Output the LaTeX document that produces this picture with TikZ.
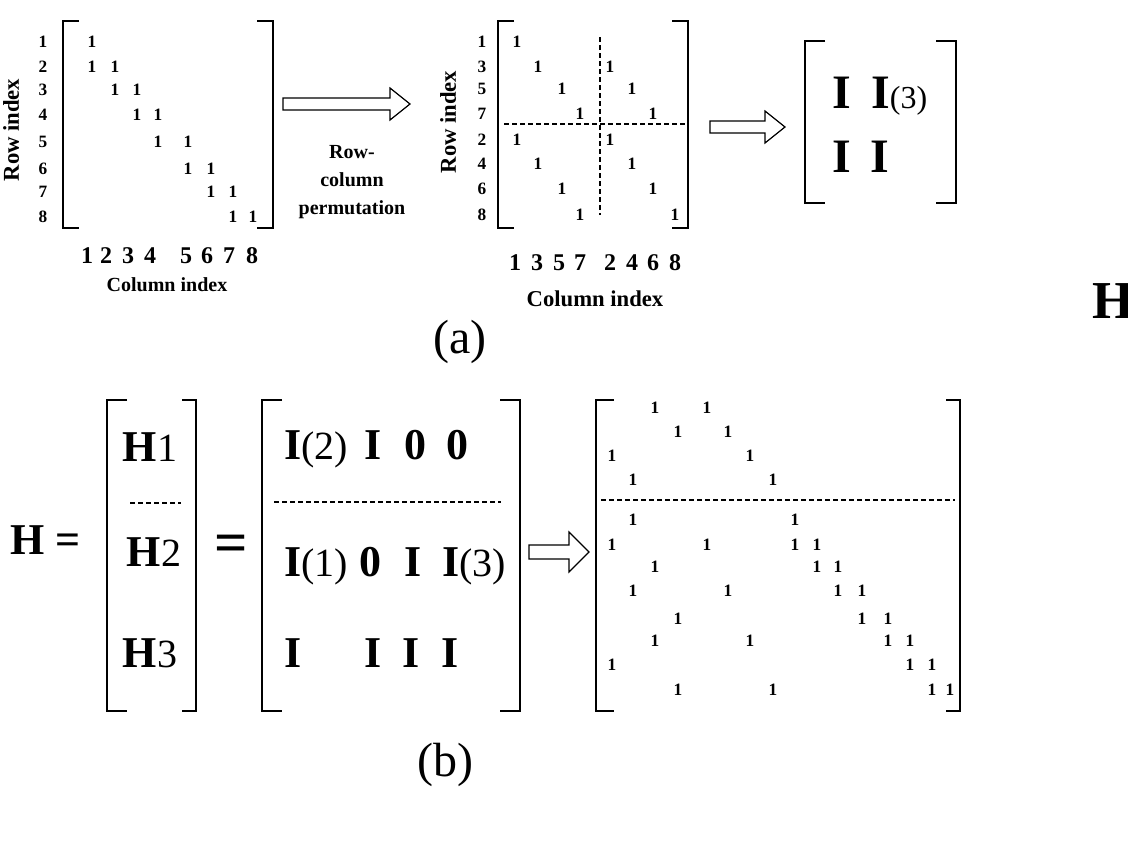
\documentclass[tikz,border=0pt]{standalone}
\usepackage{fontspec}
\setmainfont{Liberation Serif}
\begin{document}
\begin{tikzpicture}[x=0.75pt,y=-0.75pt,
  one/.style={font=\fontsize{13}{13}\selectfont\bfseries,inner sep=0pt},
  lab/.style={font=\fontsize{15}{17}\selectfont\bfseries,inner sep=0pt,align=center},
  clab/.style={font=\fontsize{18}{18}\selectfont\bfseries,inner sep=0pt},
  big/.style={font=\fontsize{33}{33}\selectfont\bfseries,inner sep=0pt,anchor=base},
  caplbl/.style={font=\fontsize{36}{36}\selectfont,inner sep=0pt},
  brk/.style={line width=1.2pt},
  dsh/.style={dashed,line width=0.9pt,dash pattern=on 4pt off 2pt},
  harrow/.style={line width=0.9pt}]
\useasboundingbox (0,0) rectangle (1128,847);
\newcommand{\lbrk}[4]{\draw[brk] (#1+#4,#2)--(#1,#2)--(#1,#3)--(#1+#4,#3);}
\newcommand{\rbrk}[4]{\draw[brk] (#1-#4,#2)--(#1,#2)--(#1,#3)--(#1-#4,#3);}
\newcommand{\harr}[6]{\draw[harrow] (#1,#3-#4)--(#2-#6,#3-#4)--(#2-#6,#3-#5)--(#2,#3)--(#2-#6,#3+#5)--(#2-#6,#3+#4)--(#1,#3+#4)--cycle;}
% ---------- (a) matrix 1
\lbrk{63}{21}{228}{16}\rbrk{273}{21}{228}{16}
\foreach \r/\y in {1/42,2/67,3/90,4/115,5/142,6/169,7/192,8/217}
  \node[one] (ra\r) at (43,\y) {\r};
\foreach \c/\x in {1/87,2/106,3/128,4/150,5/186,6/207,7/229,8/252}
  \node[clab] (ca\c) at (\x,256) {\c};
\foreach \x/\y [count=\i] in {92/42, 92/67,115/67, 115/90,137/90, 137/115,158/115, 158/142,188/142, 188/169,211/169, 211/192,233/192, 233/217,253/217}
  \node[one] (ea\i) at (\x,\y) {1};
\node[lab] (cia) at (167,285) {Column index};
\node[lab,rotate=90,font=\fontsize{17}{17}\selectfont\bfseries] (ria) at (11,130) {Row index};
\harr{283}{410}{104}{6}{16}{20}
\node[lab] (perm) at (352,182) {Row-\\[4pt]column\\[4pt]permutation};
% ---------- (a) matrix 2
\lbrk{498}{21}{228}{16}\rbrk{688}{21}{228}{16}
\foreach \r/\y [count=\i] in {1/42,3/67,5/89,7/114,2/140,4/164,6/189,8/215}
  \node[one] (rb\i) at (482,\y) {\r};
\foreach \c/\x [count=\i] in {1/515,3/537,5/559,7/580,2/610,4/632,6/653,8/675}
  \node[clab] (cb\i) at (\x,263) {\c};
\foreach \x/\y [count=\i] in {517/42, 538/67,610/67, 562/89,632/89, 580/114,653/114, 517/140,610/140, 538/164,632/164, 562/189,653/189, 580/215,675/215}
  \node[one] (eb\i) at (\x,\y) {1};
\draw[dsh] (600,37)--(600,215);
\draw[dsh] (504,124)--(687,124);
\node[lab,font=\fontsize{17}{17}\selectfont\bfseries] (cib) at (595,299) {Column index};
\node[lab,rotate=90,font=\fontsize{17}{17}\selectfont\bfseries] (rib) at (448,122) {Row index};
\harr{710}{785}{127}{6}{16}{20}
% ---------- (a) matrix 3
\lbrk{805}{41}{203}{20}\rbrk{956}{41}{203}{20}
\node[big,font=\fontsize{36}{36}\selectfont\bfseries] (m31) at (842,108) {I};
\node[big,font=\fontsize{36}{36}\selectfont\bfseries,anchor=base west] (m32) at (871,108) {I\fontsize{24}{24}\selectfont\mdseries(3)};
\node[big,font=\fontsize{36}{36}\selectfont\bfseries] (m33) at (842,172) {I};
\node[big,font=\fontsize{36}{36}\selectfont\bfseries] (m34) at (880,172) {I};
\node[big,font=\fontsize{40}{40}\selectfont\bfseries,anchor=base west] (hcut) at (1092,318) {H};
\node[caplbl] (la) at (460,342) {(a)};
% ---------- (b)
\node[big,anchor=base west] (heq) at (10,554) {H =};
\lbrk{107}{400}{711}{20}\rbrk{196}{400}{711}{14}
\node[big] (h1) at (150,461) {H\fontsize{30}{30}\selectfont\mdseries 1};
\draw[dsh] (130,503)--(181,503);
\node[big] (h2) at (154,566) {H\fontsize{30}{30}\selectfont\mdseries 2};
\node[big] (h3) at (150,667) {H\fontsize{30}{30}\selectfont\mdseries 3};
\node[big,font=\fontsize{44}{44}\selectfont\bfseries] (eq) at (231,562) {=};
\lbrk{262}{400}{711}{20}\rbrk{520}{400}{711}{20}
\node[big,anchor=base west] (r11) at (284,459) {I\fontsize{30}{30}\selectfont\mdseries(2)};
\node[big] (r12) at (373,459) {I};
\node[big] (r13) at (415,459) {0};
\node[big] (r14) at (457,459) {0};
\draw[dsh] (274,502)--(501,502);
\node[big,anchor=base west] (r21) at (284,576) {I\fontsize{30}{30}\selectfont\mdseries(1)};
\node[big] (r22) at (370,576) {0};
\node[big] (r23) at (413,576) {I};
\node[big,anchor=base west] (r24) at (442,576) {I\fontsize{30}{30}\selectfont\mdseries(3)};
\node[big] (r31) at (293,667) {I};
\node[big] (r32) at (373,667) {I};
\node[big] (r33) at (411,667) {I};
\node[big] (r34) at (450,667) {I};
\harr{529}{589}{552}{7}{20}{20}
% big matrix
\lbrk{596}{400}{711}{18}\rbrk{960}{400}{711}{14}
\draw[dsh] (601,500)--(955,500);
\foreach \x/\y [count=\i] in {
 655/408,707/408, 678/432,728/432, 612/456,750/456, 633/480,773/480,
 633/520,795/520, 612/545,707/545,795/545,817/545,
 655/567,817/567,838/567, 633/591,728/591,838/591,862/591,
 678/619,862/619,888/619, 655/641,750/641,888/641,910/641,
 612/665,910/665,932/665, 678/690,773/690,932/690,950/690}
  \node[one] (ec\i) at (\x,\y) {1};
\node[caplbl] (lb) at (445,765) {(b)};
\end{tikzpicture}
\end{document}
